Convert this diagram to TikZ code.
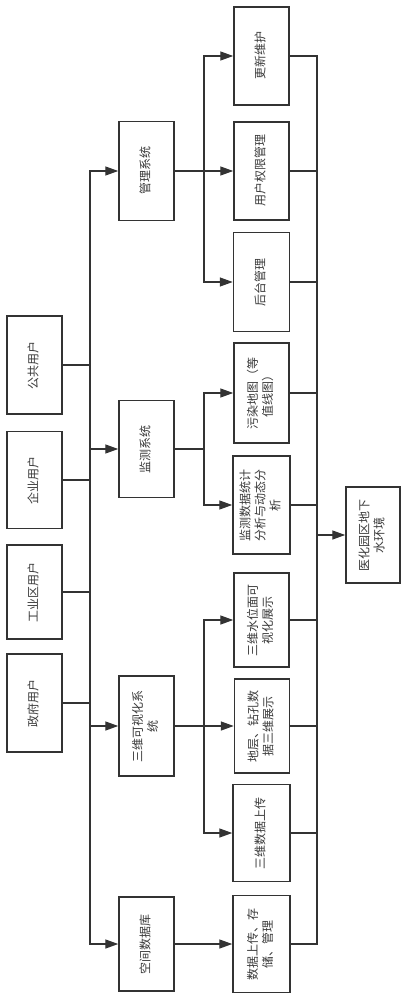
\documentclass[tikz,border=0pt]{standalone}
\usepackage{fontspec}
\newfontfamily\cjk{Noto Sans CJK SC}
\usetikzlibrary{arrows.meta}
\definecolor{ln}{HTML}{333333}
\definecolor{tx}{HTML}{3A3A3A}
\newcommand{\rtext}[1]{\rotatebox{90}{\begin{tabular}{@{}c@{}}#1\end{tabular}}}
\begin{document}
\begin{tikzpicture}[x=1pt,y=-1pt,
  box/.style={draw=ln, line width=1.5pt, minimum width=55pt, minimum height=97pt, inner sep=0pt,
    font=\cjk\fontsize{12}{15}\selectfont, text=tx},
  conn/.style={draw=ln, line width=1.4pt, line cap=rect},
  arr/.style={draw=ln, line width=1.4pt, -{Triangle[length=13pt,width=9pt]}}]
\fill[white] (0,0) rectangle (407,1000);
\useasboundingbox (0,0) rectangle (407,1000);
% users
\node[box, minimum height=98pt] (pub) at (34.5,365) {\rtext{公共用户}};
\node[box, minimum height=97pt] (ent) at (34.5,480) {\rtext{企业用户}};
\node[box, minimum height=94pt] (ind) at (34.5,592) {\rtext{工业区用户}};
\node[box, minimum height=98pt] (gov) at (34.5,703) {\rtext{政府用户}};
% systems
\node[box, minimum height=99pt] (mgmt) at (146.5,171) {\rtext{管理系统}};
\node[box, minimum height=97pt] (mon) at (146.5,449) {\rtext{监测系统}};
\node[box, minimum height=100pt] (vis) at (146.5,726) {\rtext{三维可视化系\\统}};
\node[box, minimum height=94pt] (db) at (146.5,944) {\rtext{空间数据库}};
% leaves
\node[box, minimum height=98pt] (upd) at (261.5,56) {\rtext{更新维护}};
\node[box, minimum height=98pt] (perm) at (261.5,171) {\rtext{用户权限管理}};
\node[box, minimum height=99pt, minimum width=56pt] (back) at (261.5,282) {\rtext{后台管理}};
\node[box, minimum height=100pt] (poll) at (261.5,393) {\rtext{污染地图（等\\值线图）}};
\node[box, minimum height=98pt, minimum width=57pt] (stat) at (261.5,505) {\rtext{监测数据统计\\分析与动态分\\析}};
\node[box, minimum height=94pt] (wl) at (261.5,620) {\rtext{三维水位面可\\视化展示}};
\node[box, minimum height=94pt] (strat) at (262,726) {\rtext{地层、钻孔数\\据三维展示}};
\node[box, minimum height=97pt, minimum width=57pt] (up3) at (261.5,833) {\rtext{三维数据上传}};
\node[box, minimum height=97pt, minimum width=57pt] (dbm) at (261.5,944) {\rtext{数据上传、存\\储、管理}};
% target
\node[box, minimum height=96pt, minimum width=54pt] (env) at (373,535) {\rtext{医化园区地下\\水环境}};
% bus coordinates
\coordinate (lb) at (90,0);
\coordinate (br) at (204,0);
\coordinate (rb) at (317,0);
% users to left bus
\draw[conn] (lb |- mgmt.west) -- (lb |- db.west);
\foreach \n in {pub,ent,ind,gov} \draw[conn] (\n.east) -- (\n.east -| lb);
\foreach \n in {mgmt,mon,vis,db} \draw[arr] (lb |- \n.west) -- (\n.west);
% management branch
\draw[conn] (mgmt.east) -- (mgmt.east -| br);
\draw[conn] (br |- upd.west) -- (br |- back.west);
\foreach \n in {upd,perm,back} \draw[arr] (br |- \n.west) -- (\n.west);
% monitoring branch
\draw[conn] (mon.east) -- (mon.east -| br);
\draw[conn] (br |- poll.west) -- (br |- stat.west);
\foreach \n in {poll,stat} \draw[arr] (br |- \n.west) -- (\n.west);
% visualisation branch
\draw[conn] (vis.east) -- (vis.east -| br);
\draw[conn] (br |- wl.west) -- (br |- up3.west);
\foreach \n in {wl,strat,up3} \draw[arr] (br |- \n.west) -- (\n.west);
% database
\draw[arr] (db.east) -- (dbm.west);
% right bus
\draw[conn] (rb |- upd.east) -- (rb |- dbm.east);
\foreach \n in {upd,perm,back,poll,stat,wl,strat,up3,dbm} \draw[conn] (\n.east) -- (\n.east -| rb);
\draw[arr] (rb |- env.west) -- (env.west);
\end{tikzpicture}
\end{document}
